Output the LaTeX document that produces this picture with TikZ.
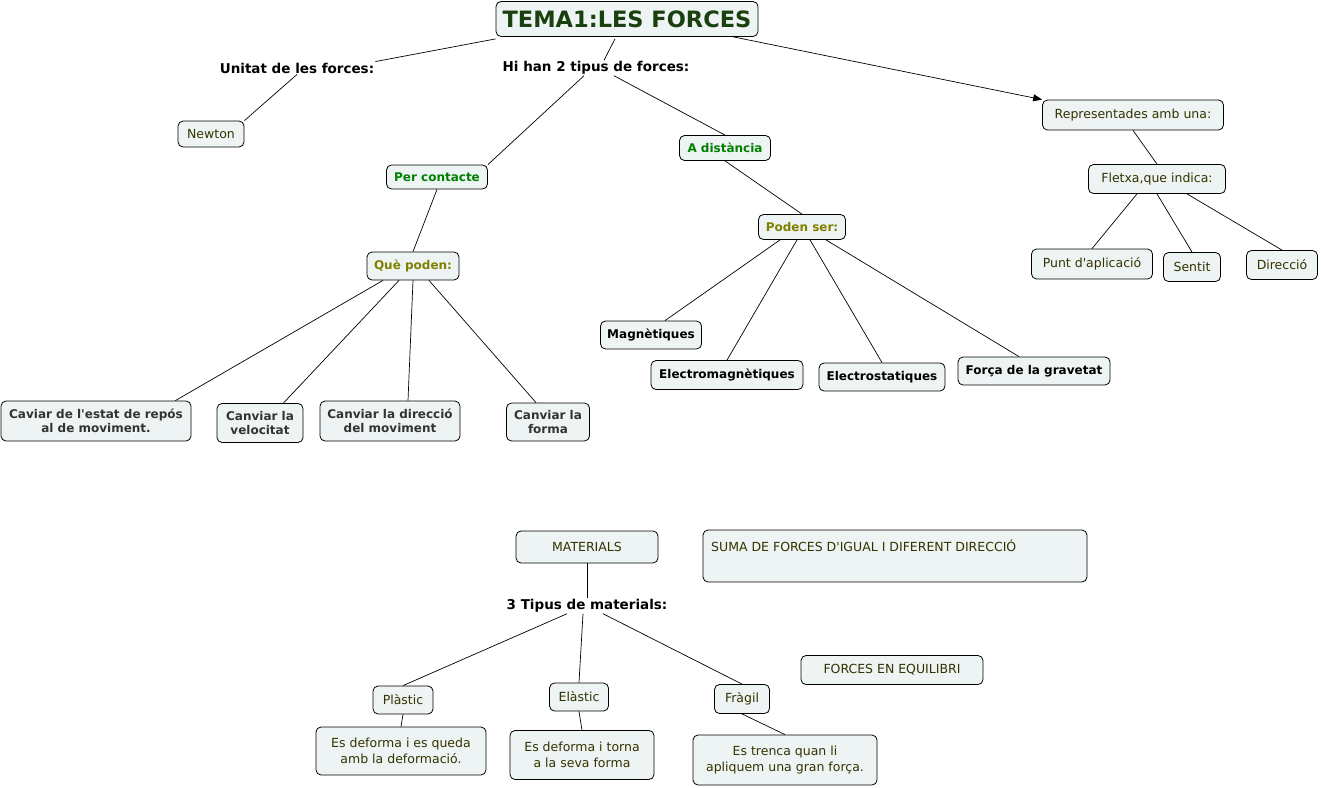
\documentclass[tikz,border=0pt]{standalone}
\usepackage{fontspec}
\setmainfont{DejaVu Sans}
\usetikzlibrary{arrows.meta}
\definecolor{bx}{HTML}{EEF3F3}
\definecolor{ttl}{HTML}{1A400F}
\definecolor{cm}{HTML}{333300}
\definecolor{gr}{HTML}{008000}
\definecolor{ol}{HTML}{808000}
\definecolor{dk}{HTML}{333333}
\newcommand{\ap}{\textquotesingle}
\begin{document}
\begin{tikzpicture}[x=1pt,y=-1pt,
 box/.style={draw=black,fill=bx,rounded corners=5pt,inner sep=0pt,align=center,line width=0.8pt},
 cb/.style={box,font=\fontsize{12.5}{16}\selectfont,text=cm},
 vb/.style={box,font=\bfseries\fontsize{12}{14.5}\selectfont,text=dk},
 lb/.style={font=\bfseries\fontsize{13.5}{16}\selectfont,inner sep=1pt},
 ln/.style={line width=0.7pt}]
\useasboundingbox (0,0) rectangle (1321,787);
\node[box,minimum width=262,minimum height=35,text=ttl,font=\bfseries\fontsize{22.5}{26}\selectfont] (t) at (627,19) {TEMA1:LES FORCES};
\node[lb] (u) at (297,68) {Unitat de les forces:};
\node[lb] (h) at (596,68) {Hi han 2 tipus de forces:};
\node[cb,minimum width=66,minimum height=26] (nw) at (211,134) {Newton};
\node[vb,text=gr,minimum width=101,minimum height=24] (pc) at (437,177) {Per contacte};
\node[vb,text=gr,minimum width=91,minimum height=25] (ad) at (725,148) {A distància};
\node[cb,minimum width=181,minimum height=30] (rep) at (1133,115) {Representades amb una:};
\node[cb,minimum width=137,minimum height=29] (fl) at (1157,179) {Fletxa,que indica:};
\node[cb,minimum width=121,minimum height=30] (pa) at (1092,264) {Punt d\ap aplicació};
\node[cb,minimum width=57,minimum height=29] (se) at (1192,267) {Sentit};
\node[cb,minimum width=71,minimum height=29] (di) at (1282,265) {Direcció};
\node[vb,text=ol,minimum width=87,minimum height=25] (ps) at (802,227) {Poden ser:};
\node[vb,text=ol,minimum width=92,minimum height=28] (qp) at (413,266) {Què poden:};
\node[vb,text=black,minimum width=101,minimum height=28] (mg) at (651,335) {Magnètiques};
\node[vb,text=black,minimum width=152,minimum height=29] (em) at (727,375) {Electromagnètiques};
\node[vb,text=black,minimum width=126,minimum height=28] (es) at (882,377) {Electrostatiques};
\node[vb,text=black,minimum width=152,minimum height=28] (fg) at (1034,371) {Força de la gravetat};
\node[vb,minimum width=190,minimum height=40] (c1) at (96,421) {Caviar de l\ap estat de repós\\al de moviment.};
\node[vb,minimum width=86,minimum height=39] (c2) at (260,423) {Canviar la\\velocitat};
\node[vb,minimum width=140,minimum height=40] (c3) at (390,421) {Canviar la direcció\\del moviment};
\node[vb,minimum width=83,minimum height=38] (c4) at (548,422) {Canviar la\\forma};
\node[cb,minimum width=142,minimum height=32] (mat) at (587,547) {MATERIALS};
\node[box,minimum width=384,minimum height=52] (sum) at (895,556) {};
\node[font=\fontsize{12.5}{15}\selectfont,text=cm,anchor=north west,inner sep=0pt] (sumt) at (711,540) {SUMA DE FORCES D\ap IGUAL I DIFERENT DIRECCIÓ};
\node[lb] (tm) at (587,606) {3 Tipus de materials:};
\node[cb,minimum width=182,minimum height=29] (eq) at (892,670) {FORCES EN EQUILIBRI};
\node[cb,minimum width=60,minimum height=28] (pl) at (403,700) {Plàstic};
\node[cb,minimum width=59,minimum height=28] (el) at (579,697) {Elàstic};
\node[cb,minimum width=55,minimum height=29] (fr) at (742,699) {Fràgil};
\node[cb,minimum width=170,minimum height=48] (d1) at (401,751) {Es deforma i es queda\\amb la deformació.};
\node[cb,minimum width=144,minimum height=49] (d2) at (582,755) {Es deforma i torna\\a la seva forma};
\node[cb,minimum width=184,minimum height=50] (d3) at (785,760) {Es trenca quan li\\apliquem una gran força.};
\draw[ln] (t.south west) ++(0,2) -- (u.north east);
\draw[ln] (t.south) ++(-12,2) -- ([xshift=8pt]h.north);
\draw[ln,-{Triangle[length=9pt,width=7pt]}] (t.south east) ++(-25,0) -- (rep.north west);
\draw[ln] (u.south) -- (nw.north east);
\draw[ln] ([xshift=-12]h.south) -- (pc.north east);
\draw[ln] ([xshift=18]h.south) -- (ad.north);
\draw[ln] (ad.south) -- (ps.north);
\draw[ln] (pc.south) -- (qp.north);
\draw[ln] (rep.south) -- (fl.north);
\draw[ln] (fl.south) ++(-20,0) -- (pa.north);
\draw[ln] (fl.south) -- (se.north);
\draw[ln] (fl.south) ++(30,0) -- (di.north);
\draw[ln] ([xshift=-22]ps.south) -- ([xshift=14]mg.north);
\draw[ln] ([xshift=-5]ps.south) -- (em.north);
\draw[ln] ([xshift=8]ps.south) -- (es.north);
\draw[ln] ([xshift=24]ps.south) -- ([xshift=-15]fg.north);
\draw[ln] ([xshift=-30]qp.south) -- ([xshift=-16]c1.north east);
\draw[ln] ([xshift=-14]qp.south) -- ([xshift=-20]c2.north east);
\draw[ln] ([xshift=0]qp.south) -- ([xshift=18]c3.north);
\draw[ln] ([xshift=16]qp.south) -- ([xshift=-12]c4.north);
\draw[ln] (mat.south) -- (tm.north);
\draw[ln] ([xshift=-20]tm.south) -- (pl.north);
\draw[ln] ([xshift=-4]tm.south) -- (el.north);
\draw[ln] ([xshift=16]tm.south) -- (fr.north);
\draw[ln] (pl.south) -- (d1.north);
\draw[ln] (el.south) -- (d2.north);
\draw[ln] (fr.south) -- (d3.north);
\end{tikzpicture}
\end{document}
